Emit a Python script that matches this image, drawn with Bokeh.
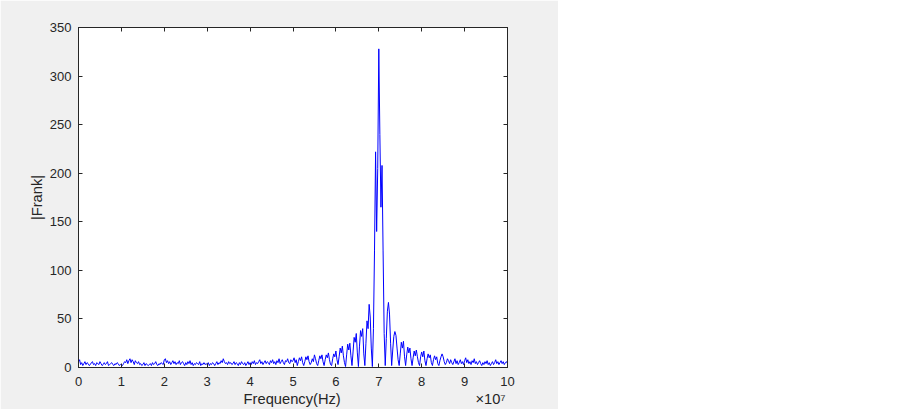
import numpy as np
from bokeh.plotting import figure
from bokeh.models import Range1d, FixedTicker, LinearAxis, CustomJSTickFormatter
from bokeh.embed import file_html
from bokeh.resources import INLINE

# ---- data ----
freq_step_hz = 0.25e6   # spacing of the spectrum bins

amp_0_1e7 = [6, 8, 3, 5, 2, 4, 6, 3, 5, 4, 2, 3, 5, 6, 3, 4, 2, 5, 4, 3,
             6, 4, 2, 3, 5, 3, 4, 6, 2, 3, 4, 5, 3, 2, 4, 3, 5, 4, 2, 3]
amp_1_2e7 = [3, 2, 4, 6, 5, 8, 4, 7, 9, 5, 8, 6, 3, 7, 5, 4, 6, 3, 4, 2,
             3, 5, 2, 4, 3, 2, 3, 4, 2, 5, 3, 4, 6, 3, 2, 4, 3, 5, 4, 3]
amp_2_3e7 = [8, 9, 5, 7, 4, 6, 3, 5, 7, 4, 6, 3, 5, 4, 7, 3, 5, 6, 4, 2,
             5, 3, 6, 4, 7, 3, 5, 2, 4, 3, 5, 4, 3, 6, 2, 4, 3, 5, 3, 4]
amp_3_4e7 = [3, 5, 2, 4, 3, 5, 4, 2, 4, 6, 3, 5, 4, 7, 5, 9, 6, 4, 5, 3,
             6, 4, 5, 3, 4, 6, 3, 5, 4, 2, 5, 3, 6, 4, 3, 5, 2, 4, 6, 3]
amp_4_5e7 = [5, 3, 6, 4, 7, 3, 5, 4, 6, 8, 4, 6, 3, 5, 7, 4, 6, 5, 3, 7,
             5, 8, 4, 6, 3, 7, 5, 9, 4, 6, 8, 5, 3, 7, 6, 9, 5, 4, 8, 6]
amp_5_6e7 = [7, 10, 5, 8, 2, 6, 10, 7, 11, 5, 2, 6, 11, 8, 12, 6, 3, 5, 9, 6,
             13, 9, 4, 2, 7, 12, 9, 13, 6, 2, 8, 13, 10, 15, 8, 3, 2, 9, 14, 11]
amp_6_7e7 = [17, 8, 3, 11, 20, 15, 22, 12, 5, 1, 13, 24, 18, 25, 12, 2, 16, 31, 26, 35,
             15, 1, 22, 38, 32, 40, 14, 2, 25, 48, 40, 65, 52, 20, 1, 40, 120, 222, 140, 205]
amp_7_8e7 = [328, 240, 165, 208, 120, 35, 2, 30, 58, 67, 55, 25, 2, 18, 32, 37, 33, 20, 8, 2,
             14, 26, 20, 27, 11, 2, 13, 21, 15, 20, 9, 2, 10, 17, 12, 18, 11, 5, 2, 11]
amp_8_9e7 = [16, 11, 17, 7, 2, 9, 14, 10, 13, 5, 2, 8, 12, 8, 11, 4, 2, 7, 11, 14,
             11, 6, 3, 5, 9, 7, 4, 8, 5, 3, 6, 9, 4, 7, 3, 5, 8, 4, 6, 3]
amp_9_10e7 = [7, 10, 5, 8, 4, 6, 3, 7, 5, 9, 4, 6, 3, 5, 7, 4, 2, 5, 3, 6,
              4, 7, 3, 5, 2, 4, 6, 3, 5, 8, 4, 6, 3, 5, 7, 4, 6, 3, 5, 6, 4]

x_ticks = [0, 1e7, 2e7, 3e7, 4e7, 5e7, 6e7, 7e7, 8e7, 9e7, 1e8]
y_ticks = [0, 50, 100, 150, 200, 250, 300, 350]
x_title = "Frequency(Hz)"
x_exponent = "×10⁷"
y_title = "|Frank|"

amp = np.array(amp_0_1e7 + amp_1_2e7 + amp_2_3e7 + amp_3_4e7 + amp_4_5e7 +
               amp_5_6e7 + amp_6_7e7 + amp_7_8e7 + amp_8_9e7 + amp_9_10e7, dtype=float)
freq = np.arange(len(amp)) * freq_step_hz

# ---- styling ----
AX = "#262626"
FONT = "Liberation Sans"
BG = "#f0f0f0"
NB = "\u00a0"

# the x label is centred on the frame; non-breaking spaces put the exponent at the right end
x_label = NB * 40 + x_title + NB * 33 + x_exponent

p = figure(width=558, height=409, output_backend="svg", toolbar_location=None,
           x_range=Range1d(0, 1e8), y_range=Range1d(0, 350),
           x_axis_label=x_label, y_axis_label=y_title,
           min_border_left=78, min_border_right=51, min_border_top=27, min_border_bottom=42)
p.border_fill_color = BG
p.background_fill_color = "white"
p.outline_line_color = AX
p.grid.visible = False

p.line(freq, amp, line_color="#0000ff", line_width=1)

p.xaxis.ticker = FixedTicker(ticks=x_ticks)
p.xaxis.formatter = CustomJSTickFormatter(code="return (tick/1e7).toFixed(0);")
p.yaxis.ticker = FixedTicker(ticks=y_ticks)

for ax in (p.xaxis[0], p.yaxis[0]):
    ax.axis_line_color = AX
    ax.major_tick_line_color = AX
    ax.major_tick_in = 4
    ax.major_tick_out = 0
    ax.minor_tick_line_color = None
    ax.major_label_text_font = FONT
    ax.major_label_text_font_size = "13px"
    ax.major_label_text_color = AX
    ax.axis_label_text_font = FONT
    ax.axis_label_text_font_size = "14.7px"
    ax.axis_label_text_font_style = "normal"
    ax.axis_label_text_color = AX
p.xaxis.major_label_standoff = 9
p.xaxis.axis_label_standoff = 2
p.yaxis.major_label_standoff = 7
p.yaxis.axis_label_standoff = 2

top = LinearAxis(ticker=FixedTicker(ticks=x_ticks))
right = LinearAxis(ticker=FixedTicker(ticks=y_ticks))
for ax in (top, right):
    ax.axis_line_color = AX
    ax.major_tick_line_color = AX
    ax.major_tick_in = 4
    ax.major_tick_out = 0
    ax.minor_tick_line_color = None
    ax.major_label_text_color = None
    ax.major_label_standoff = 0
p.add_layout(top, "above")
p.add_layout(right, "right")

open("out.html", "w").write(file_html(p, INLINE))
